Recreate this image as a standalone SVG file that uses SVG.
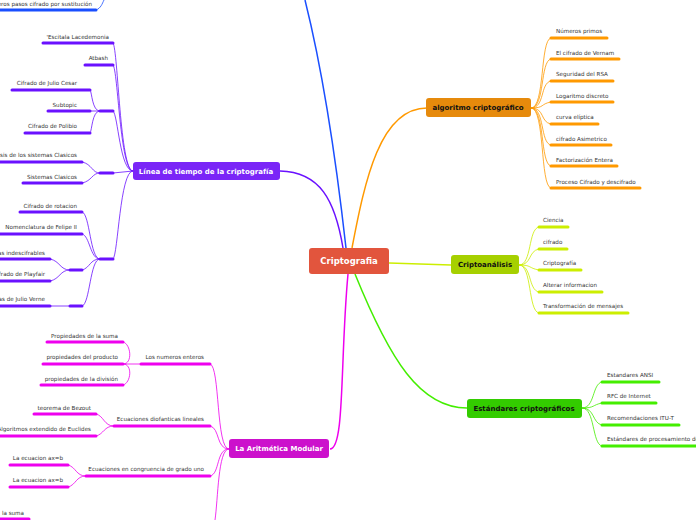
<svg xmlns="http://www.w3.org/2000/svg" width="696" height="520" viewBox="0 0 696 520">
<style>
.t{font-family:"DejaVu Sans",sans-serif;font-size:5.6px;fill:#333}
.r{text-anchor:end}
.n{font-family:"DejaVu Sans",sans-serif;font-size:7px;font-weight:bold;text-anchor:middle}
.c{fill:none;stroke-width:0.8}
.u{stroke-width:3;stroke-linecap:round}
.p{stroke:#6a11ff}.b{stroke:#1a4fff}.o{stroke:#ff9900}.y{stroke:#ccee00}.g{stroke:#44ee00}.m{stroke:#ee00ee}
</style>
<rect width="696" height="520" fill="#fff"/>
<g id="connectors">
<path class="c p" style="stroke-width:1.5" d="M343 248 C335 200 320 172 280 171"/>
<path class="c b" style="stroke-width:1.5" d="M346 248 C335 150 320 60 305 0"/>
<path class="c o" style="stroke-width:1.5" d="M352 248 C365 180 380 108 427 108"/>
<path class="c y" style="stroke-width:1.5" d="M389 263 L451 265"/>
<path class="c g" style="stroke-width:1.5" d="M355 274 C390 360 420 408 467 408"/>
<path class="c m" style="stroke-width:1.5" d="M348 274 C340 360 345 449 330 449"/>
<path class="c b" d="M96 10 C101 8 102 4 104 0"/>
<g class="c p">
<path d="M133 171 C120 171 118 50 113 43"/><path d="M133 171 C120 171 118 70 113 65"/>
<path d="M133 171 C120 171 118 115 113 111"/><path d="M133 171 L113 173"/>
<path d="M133 171 C120 171 118 255 113 259"/>
<path d="M100 111 C92 111 92 92 90 90"/><path d="M100 111 L90 111"/><path d="M100 111 C92 111 92 131 90 133"/>
<path d="M100 173 C92 173 92 164 82 162"/><path d="M100 173 C92 173 92 181 82 183"/>
<path d="M100 259 C90 259 90 214 82 212"/><path d="M100 259 C90 259 90 236 82 234"/>
<path d="M100 259 C90 259 90 268 82 270"/><path d="M100 259 C90 259 90 304 82 306"/>
<path d="M70 270 C60 270 60 261 50 259"/><path d="M70 270 C60 270 60 279 50 281"/>
<path d="M70 306 L50 306"/>
</g>
<g class="u p">
<line x1="43" y1="43" x2="113" y2="43"/><line x1="85" y1="65" x2="113" y2="65"/>
<line x1="100" y1="111" x2="113" y2="111"/><line x1="100" y1="173" x2="113" y2="173"/><line x1="100" y1="259" x2="113" y2="259"/>
<line x1="12" y1="90" x2="90" y2="90"/><line x1="48" y1="111" x2="90" y2="111"/><line x1="25" y1="133" x2="90" y2="133"/>
<line x1="0" y1="162" x2="82" y2="162"/><line x1="23" y1="183" x2="82" y2="183"/>
<line x1="20" y1="212" x2="82" y2="212"/><line x1="0" y1="234" x2="82" y2="234"/>
<line x1="70" y1="270" x2="82" y2="270"/><line x1="70" y1="306" x2="82" y2="306"/>
<line x1="0" y1="259" x2="50" y2="259"/><line x1="0" y1="281" x2="50" y2="281"/><line x1="0" y1="306" x2="50" y2="306"/>
</g>
<line class="u b" x1="0" y1="10" x2="96" y2="10"/>
<g class="c o">
<path d="M531 108 C545 108 540 40 551 38"/><path d="M531 108 C545 108 540 61 551 59"/>
<path d="M531 108 C545 108 540 83 551 81"/><path d="M531 108 C545 108 540 104 551 102"/>
<path d="M531 108 C545 108 540 122 551 124"/><path d="M531 108 C545 108 540 143 551 145"/>
<path d="M531 108 C545 108 540 164 551 166"/><path d="M531 108 C545 108 540 186 551 188"/>
</g>
<g class="u o">
<line x1="551" y1="38" x2="607" y2="38"/><line x1="551" y1="59" x2="619" y2="59"/><line x1="551" y1="81" x2="613" y2="81"/>
<line x1="551" y1="102" x2="613" y2="102"/><line x1="551" y1="124" x2="598" y2="124"/><line x1="551" y1="145" x2="611" y2="145"/>
<line x1="551" y1="166" x2="617" y2="166"/><line x1="551" y1="188" x2="640" y2="188"/>
</g>
<g class="c y">
<path d="M519 265 C532 265 528 229 539 227"/><path d="M519 265 C532 265 528 251 539 249"/>
<path d="M519 265 C532 265 528 268 539 270"/><path d="M519 265 C532 265 528 290 539 292"/>
<path d="M519 265 C532 265 528 311 539 313"/>
</g>
<g class="u y">
<line x1="539" y1="227" x2="568" y2="227"/><line x1="539" y1="249" x2="567" y2="249"/><line x1="539" y1="270" x2="581" y2="270"/>
<line x1="539" y1="292" x2="602" y2="292"/><line x1="539" y1="313" x2="628" y2="313"/>
</g>
<g class="c g">
<path d="M582 408 C595 408 592 384 602 382"/><path d="M582 408 C595 408 592 405 602 403"/>
<path d="M582 408 C595 408 592 423 602 425"/><path d="M582 408 C595 408 592 444 602 446"/>
</g>
<g class="u g">
<line x1="602" y1="382" x2="659" y2="382"/><line x1="602" y1="403" x2="656" y2="403"/>
<line x1="602" y1="425" x2="679" y2="425"/><line x1="602" y1="446" x2="696" y2="446"/>
</g>
<g class="c m">
<path d="M229 449 C216 449 220 366 210 364"/><path d="M229 449 C216 449 220 428 210 426"/>
<path d="M229 449 C216 449 220 474 210 476"/><path d="M229 449 C218 449 218 500 215 520"/>
<path d="M123 364 C133 364 131 344 123 342"/><path d="M141 364 L123 364"/><path d="M123 364 C133 364 131 383 123 385"/>
<path d="M114 426 C104 426 104 416 96 414"/><path d="M114 426 C104 426 104 434 96 436"/>
<path d="M86 476 C76 476 76 467 68 465"/><path d="M86 476 C76 476 76 485 68 487"/>
</g>
<g class="u m">
<line x1="141" y1="364" x2="210" y2="364"/><line x1="114" y1="426" x2="210" y2="426"/><line x1="86" y1="476" x2="210" y2="476"/>
<line x1="47" y1="342" x2="123" y2="342"/><line x1="43" y1="364" x2="123" y2="364"/><line x1="41" y1="385" x2="123" y2="385"/>
<line x1="34" y1="414" x2="96" y2="414"/><line x1="0" y1="436" x2="96" y2="436"/>
<line x1="10" y1="465" x2="68" y2="465"/><line x1="10" y1="487" x2="68" y2="487"/>
<line x1="0" y1="519" x2="29" y2="519"/>
</g>
</g>
<g id="center"><rect x="309" y="248" width="80" height="26" rx="3" fill="#e2553d"/><text class="n" x="349" y="264" fill="#fff" style="font-size:8.5px">Criptografia</text></g>
<g id="linea"><rect x="133" y="162" width="147" height="18" rx="3" fill="#7a26f7"/><text class="n" x="206" y="174" fill="#fff">Línea de tiempo de la criptografía</text></g>
<g id="algoritmo"><rect x="426" y="98" width="105" height="19" rx="3" fill="#e68a0c"/><text class="n" x="478" y="110" fill="#111">algoritmo criptográfico</text></g>
<g id="criptoanalisis"><rect x="451" y="255" width="68" height="19" rx="3" fill="#a6d000"/><text class="n" x="485" y="267" fill="#111">Criptoanálisis</text></g>
<g id="estandares"><rect x="467" y="399" width="115" height="19" rx="3" fill="#33cc00"/><text class="n" x="524" y="411" fill="#111">Estándares criptográficos</text></g>
<g id="aritmetica"><rect x="229" y="439" width="100" height="19" rx="3" fill="#cc11cc"/><text class="n" x="279" y="451" fill="#fff">La Aritmética Modular</text></g>
<g id="labels">
<text class="t r" x="92" y="6">eros pasos cifrado por sustitución</text>
<text class="t r" x="109" y="39">'Escitala Lacedemonia</text>
<text class="t r" x="108" y="60">Atbash</text>
<text class="t r" x="77" y="85">Cifrado de Julio Cesar</text>
<text class="t r" x="77" y="107">Subtopic</text>
<text class="t r" x="77" y="128">Cifrado de Polibio</text>
<text class="t r" x="77" y="157">lisis de los sistemas Clasicos</text>
<text class="t r" x="77" y="179">Sistemas Clasicos</text>
<text class="t r" x="77" y="208">Cifrado de rotacion</text>
<text class="t r" x="77" y="229">Nomenclatura de Felipe II</text>
<text class="t r" x="45" y="255">as indescifrables</text>
<text class="t r" x="45" y="276">frado de Playfair</text>
<text class="t r" x="45" y="301">as de Julio Verne</text>
<text class="t" x="556" y="33">Números primos</text>
<text class="t" x="556" y="55">El cifrado de Vernam</text>
<text class="t" x="556" y="76">Seguridad del RSA</text>
<text class="t" x="556" y="98">Logaritmo discreto</text>
<text class="t" x="556" y="119">curva elíptica</text>
<text class="t" x="556" y="141">cifrado Asimetrico</text>
<text class="t" x="556" y="162">Factorización Entera</text>
<text class="t" x="556" y="184">Proceso Cifrado y descifrado</text>
<text class="t" x="543" y="222">Ciencia</text>
<text class="t" x="543" y="244">cifrado</text>
<text class="t" x="543" y="265">Criptografía</text>
<text class="t" x="543" y="287">Alterar informacion</text>
<text class="t" x="543" y="308">Transformación de mensajes</text>
<text class="t" x="607" y="377">Estandares ANSI</text>
<text class="t" x="607" y="398">RFC de Internet</text>
<text class="t" x="607" y="420">Recomendaciones ITU-T</text>
<text class="t" x="607" y="441">Estándares de procesamiento de</text>
<text class="t r" x="204" y="359">Los numeros enteros</text>
<text class="t r" x="118" y="338">Propiedades de la suma</text>
<text class="t r" x="118" y="359">propiedades del producto</text>
<text class="t r" x="118" y="381">propiedades de la división</text>
<text class="t r" x="204" y="421">Ecuaciones diofanticas lineales</text>
<text class="t r" x="91" y="410">teorema de Bezout</text>
<text class="t r" x="91" y="431">Algoritmos extendido de Euclides</text>
<text class="t r" x="204" y="471">Ecuaciones en congruencia de grado uno</text>
<text class="t r" x="63" y="460">La ecuacion ax=b</text>
<text class="t r" x="63" y="482">La ecuacion ax=b</text>
<text class="t r" x="24" y="515">la suma</text>
</g>
</svg>
